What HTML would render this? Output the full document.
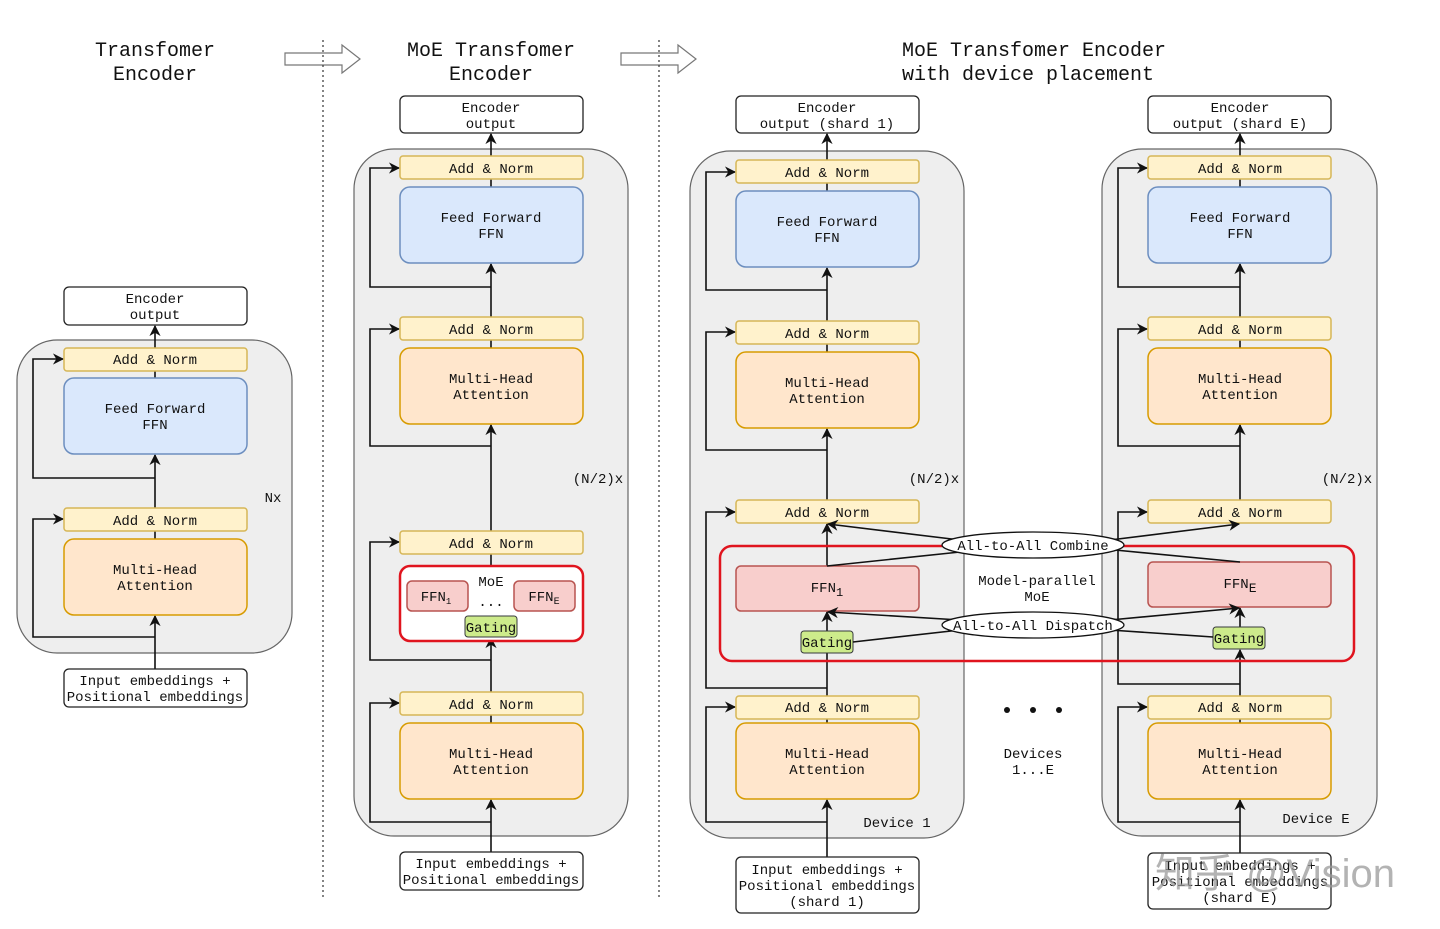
<!DOCTYPE html>
<html><head><meta charset="utf-8"><style>
html,body{margin:0;padding:0;background:#fff}
svg{display:block}
text{font-family:"Liberation Mono","DejaVu Sans Mono",monospace;font-size:14px;fill:#111;text-anchor:middle}
.t{font-size:20px}
.an{fill:#fff2cc;stroke:#d6b656;stroke-width:1.5}
.ff{fill:#dae8fc;stroke:#6c8ebf;stroke-width:1.5}
.mh{fill:#ffe6cc;stroke:#d79b00;stroke-width:1.5}
.fn{fill:#f8cecc;stroke:#b85450;stroke-width:1.5}
.ga{fill:#cdeb8b;stroke:#36393d;stroke-width:1}
.bx{fill:#fff;stroke:#222;stroke-width:1.3}
.gr{fill:#eeeeee;stroke:#666;stroke-width:1.2}
.ln{fill:none;stroke:#111;stroke-width:1.6}
.rd{fill:none;stroke:#e0141e;stroke-width:2.5}
</style></head><body>
<svg width="1440" height="929" viewBox="0 0 1440 929" xmlns="http://www.w3.org/2000/svg">
<defs><marker id="a" viewBox="0 0 10 10" refX="9" refY="5" markerWidth="7" markerHeight="7" orient="auto"><path d="M0,0 L10,5 L0,10 L3,5 z" fill="#111"/></marker></defs>

<!-- titles -->
<text class="t" x="155" y="56">Transfomer</text><text class="t" x="155" y="80">Encoder</text>
<text class="t" x="491" y="56">MoE Transfomer</text><text class="t" x="491" y="80">Encoder</text>
<text class="t" x="902" y="56" style="text-anchor:start">MoE Transfomer Encoder</text>
<text class="t" x="902" y="80" style="text-anchor:start">with device placement</text>

<!-- hollow arrows & dotted separators -->
<path d="M285,53 H342 V45 L360,59 L342,73 V65 H285 Z" fill="#fff" stroke="#777" stroke-width="1.2"/>
<path d="M621,53 H678 V45 L696,59 L678,73 V65 H621 Z" fill="#fff" stroke="#777" stroke-width="1.2"/>
<line x1="323" y1="40" x2="323" y2="898" stroke="#333" stroke-width="1.2" stroke-dasharray="2,3"/>
<line x1="659" y1="40" x2="659" y2="898" stroke="#333" stroke-width="1.2" stroke-dasharray="2,3"/>

<!-- ===== Column 1 ===== -->
<rect class="gr" x="17" y="340" width="275" height="313" rx="40"/>
<rect class="bx" x="64" y="287" width="183" height="38" rx="5"/>
<text x="155" y="303">Encoder</text><text x="155" y="319">output</text>
<path class="ln" d="M155,669 V616" marker-end="url(#a)"/>
<path class="ln" d="M155,637 H33 V519 H63" marker-end="url(#a)"/>
<path class="ln" d="M155,539 V531"/>
<path class="ln" d="M155,508 V455" marker-end="url(#a)"/>
<path class="ln" d="M155,478 H33 V359 H63" marker-end="url(#a)"/>
<path class="ln" d="M155,378 V371"/>
<path class="ln" d="M155,348 V326" marker-end="url(#a)"/>
<rect class="an" x="64" y="348" width="183" height="23" rx="3"/><text x="155" y="364">Add &amp; Norm</text>
<rect class="ff" x="64" y="378" width="183" height="76" rx="10"/><text x="155" y="413">Feed Forward</text><text x="155" y="429">FFN</text>
<rect class="an" x="64" y="508" width="183" height="23" rx="3"/><text x="155" y="525">Add &amp; Norm</text>
<rect class="mh" x="64" y="539" width="183" height="76" rx="10"/><text x="155" y="574">Multi-Head</text><text x="155" y="590">Attention</text>
<text x="273" y="502">Nx</text>
<rect class="bx" x="64" y="669" width="183" height="38" rx="5"/>
<text x="155" y="685">Input embeddings +</text><text x="155" y="701">Positional embeddings</text>

<!-- ===== Column 2 ===== -->
<rect class="gr" x="354" y="149" width="274" height="687" rx="40"/>
<rect class="bx" x="400" y="96" width="183" height="37" rx="5"/>
<text x="491" y="112">Encoder</text><text x="491" y="128">output</text>
<path class="ln" d="M491,852 V800" marker-end="url(#a)"/>
<path class="ln" d="M491,822 H370 V703 H399" marker-end="url(#a)"/>
<path class="ln" d="M491,723 V715"/>
<path class="ln" d="M491,692 V638" marker-end="url(#a)"/>
<path class="ln" d="M491,660 H370 V542 H399" marker-end="url(#a)"/>
<path class="ln" d="M491,566 V554"/>
<path class="ln" d="M491,531 V425" marker-end="url(#a)"/>
<path class="ln" d="M491,446 H370 V329 H399" marker-end="url(#a)"/>
<path class="ln" d="M491,348 V340"/>
<path class="ln" d="M491,317 V264" marker-end="url(#a)"/>
<path class="ln" d="M491,287 H370 V168 H399" marker-end="url(#a)"/>
<path class="ln" d="M491,187 V179"/>
<path class="ln" d="M491,156 V134" marker-end="url(#a)"/>
<rect class="an" x="400" y="156" width="183" height="23" rx="3"/><text x="491" y="173">Add &amp; Norm</text>
<rect class="ff" x="400" y="187" width="183" height="76" rx="10"/><text x="491" y="222">Feed Forward</text><text x="491" y="238">FFN</text>
<rect class="an" x="400" y="317" width="183" height="23" rx="3"/><text x="491" y="334">Add &amp; Norm</text>
<rect class="mh" x="400" y="348" width="183" height="76" rx="10"/><text x="491" y="383">Multi-Head</text><text x="491" y="399">Attention</text>
<text x="598" y="483">(N/2)x</text>
<rect class="an" x="400" y="531" width="183" height="23" rx="3"/><text x="491" y="548">Add &amp; Norm</text>
<rect x="400" y="566" width="183" height="75" rx="10" fill="#fff" stroke="#e0141e" stroke-width="2.5"/>
<text x="491" y="586">MoE</text><text x="491" y="606">...</text>
<rect class="fn" x="407" y="581" width="61" height="30" rx="5"/><text x="436" y="601">FFN<tspan font-size="9" dy="3">1</tspan></text>
<rect class="fn" x="514" y="581" width="61" height="30" rx="5"/><text x="544" y="601">FFN<tspan font-size="10" dy="3">E</tspan></text>
<rect class="ga" x="465" y="616" width="52" height="21" rx="3"/><text x="491" y="632">Gating</text>
<rect class="an" x="400" y="692" width="183" height="23" rx="3"/><text x="491" y="709">Add &amp; Norm</text>
<rect class="mh" x="400" y="723" width="183" height="76" rx="10"/><text x="491" y="758">Multi-Head</text><text x="491" y="774">Attention</text>
<rect class="bx" x="400" y="852" width="183" height="38" rx="5"/>
<text x="491" y="868">Input embeddings +</text><text x="491" y="884">Positional embeddings</text>

<!-- ===== Column 3 ===== -->
<rect class="gr" x="690" y="151" width="274" height="687" rx="40"/>
<rect class="bx" x="736" y="96" width="183" height="37" rx="5"/>
<text x="827" y="112">Encoder</text><text x="827" y="128">output (shard 1)</text>
<path class="ln" d="M827,857 V800" marker-end="url(#a)"/>
<path class="ln" d="M827,822 H706 V707 H735" marker-end="url(#a)"/>
<path class="ln" d="M827,723 V719"/>
<path class="ln" d="M827,696 V653"/>
<path class="ln" d="M827,688 H706 V512 H735" marker-end="url(#a)"/>
<path class="ln" d="M827,631 V612" marker-end="url(#a)"/>
<path class="ln" d="M827,566 V524" marker-end="url(#a)"/>
<path class="ln" d="M827,500 V429" marker-end="url(#a)"/>
<path class="ln" d="M827,450 H706 V332 H735" marker-end="url(#a)"/>
<path class="ln" d="M827,352 V344"/>
<path class="ln" d="M827,321 V268" marker-end="url(#a)"/>
<path class="ln" d="M827,290 H706 V172 H735" marker-end="url(#a)"/>
<path class="ln" d="M827,191 V183"/>
<path class="ln" d="M827,160 V134" marker-end="url(#a)"/>
<rect class="an" x="736" y="160" width="183" height="23" rx="3"/><text x="827" y="177">Add &amp; Norm</text>
<rect class="ff" x="736" y="191" width="183" height="76" rx="10"/><text x="827" y="226">Feed Forward</text><text x="827" y="242">FFN</text>
<rect class="an" x="736" y="321" width="183" height="23" rx="3"/><text x="827" y="338">Add &amp; Norm</text>
<rect class="mh" x="736" y="352" width="183" height="76" rx="10"/><text x="827" y="387">Multi-Head</text><text x="827" y="403">Attention</text>
<text x="934" y="483">(N/2)x</text>
<rect class="an" x="736" y="500" width="183" height="23" rx="3"/><text x="827" y="517">Add &amp; Norm</text>
<rect class="fn" x="736" y="566" width="183" height="45" rx="5"/><text x="827" y="592">FFN<tspan font-size="12" dy="4">1</tspan></text>
<rect class="ga" x="801" y="631" width="52" height="22" rx="3"/><text x="827" y="647">Gating</text>
<rect class="an" x="736" y="696" width="183" height="23" rx="3"/><text x="827" y="712">Add &amp; Norm</text>
<rect class="mh" x="736" y="723" width="183" height="76" rx="10"/><text x="827" y="758">Multi-Head</text><text x="827" y="774">Attention</text>
<text x="897" y="827">Device 1</text>
<rect class="bx" x="736" y="857" width="183" height="56" rx="5"/>
<text x="827" y="874">Input embeddings +</text><text x="827" y="890">Positional embeddings</text><text x="827" y="906">(shard 1)</text>

<!-- ===== Column 4 ===== -->
<rect class="gr" x="1102" y="149" width="275" height="687" rx="40"/>
<rect class="bx" x="1148" y="96" width="183" height="37" rx="5"/>
<text x="1240" y="112">Encoder</text><text x="1240" y="128">output (shard E)</text>
<path class="ln" d="M1240,853 V800" marker-end="url(#a)"/>
<path class="ln" d="M1240,822 H1118 V707 H1147" marker-end="url(#a)"/>
<path class="ln" d="M1240,723 V719"/>
<path class="ln" d="M1240,696 V650" marker-end="url(#a)"/>
<path class="ln" d="M1240,684 H1118 V512 H1147" marker-end="url(#a)"/>
<path class="ln" d="M1240,627 V608" marker-end="url(#a)"/>
<path class="ln" d="M1240,500 V425" marker-end="url(#a)"/>
<path class="ln" d="M1240,446 H1118 V329 H1147" marker-end="url(#a)"/>
<path class="ln" d="M1240,348 V340"/>
<path class="ln" d="M1240,317 V264" marker-end="url(#a)"/>
<path class="ln" d="M1240,287 H1118 V168 H1147" marker-end="url(#a)"/>
<path class="ln" d="M1240,187 V179"/>
<path class="ln" d="M1240,156 V134" marker-end="url(#a)"/>
<rect class="an" x="1148" y="156" width="183" height="23" rx="3"/><text x="1240" y="173">Add &amp; Norm</text>
<rect class="ff" x="1148" y="187" width="183" height="76" rx="10"/><text x="1240" y="222">Feed Forward</text><text x="1240" y="238">FFN</text>
<rect class="an" x="1148" y="317" width="183" height="23" rx="3"/><text x="1240" y="334">Add &amp; Norm</text>
<rect class="mh" x="1148" y="348" width="183" height="76" rx="10"/><text x="1240" y="383">Multi-Head</text><text x="1240" y="399">Attention</text>
<text x="1347" y="483">(N/2)x</text>
<rect class="an" x="1148" y="500" width="183" height="23" rx="3"/><text x="1240" y="517">Add &amp; Norm</text>
<rect class="fn" x="1148" y="562" width="183" height="45" rx="5"/><text x="1240" y="588">FFN<tspan font-size="13" dy="4">E</tspan></text>
<rect class="ga" x="1213" y="627" width="52" height="22" rx="3"/><text x="1239" y="643">Gating</text>
<rect class="an" x="1148" y="696" width="183" height="23" rx="3"/><text x="1240" y="712">Add &amp; Norm</text>
<rect class="mh" x="1148" y="723" width="183" height="76" rx="10"/><text x="1240" y="758">Multi-Head</text><text x="1240" y="774">Attention</text>
<text x="1316" y="823">Device E</text>
<rect class="bx" x="1148" y="853" width="183" height="56" rx="5"/>
<text x="1240" y="870">Input embeddings +</text><text x="1240" y="886">Positional embeddings</text><text x="1240" y="902">(shard E)</text>

<!-- Model-parallel MoE -->
<rect class="rd" x="720" y="546" width="634" height="115" rx="12"/>
<text x="1037" y="585">Model-parallel</text><text x="1037" y="601">MoE</text>
<path class="ln" d="M960,540 L828,524" marker-end="url(#a)"/>
<path class="ln" d="M1110,540 L1239,524" marker-end="url(#a)"/>
<path class="ln" d="M827,566 L960,552"/>
<path class="ln" d="M1240,562 L1115,550"/>
<path class="ln" d="M960,620 L828,612" marker-end="url(#a)"/>
<path class="ln" d="M1110,620 L1239,608" marker-end="url(#a)"/>
<path class="ln" d="M853,642 L960,630"/>
<path class="ln" d="M1213,637 L1110,630"/>
<ellipse cx="1033" cy="545" rx="91" ry="13" fill="#fff" stroke="#111" stroke-width="1.3"/>
<text x="1033" y="550">All-to-All Combine</text>
<ellipse cx="1033" cy="625" rx="91" ry="13" fill="#fff" stroke="#111" stroke-width="1.3"/>
<text x="1033" y="630">All-to-All Dispatch</text>

<!-- devices -->
<circle cx="1007" cy="710" r="3" fill="#111"/><circle cx="1033" cy="710" r="3" fill="#111"/><circle cx="1059" cy="710" r="3" fill="#111"/>
<text x="1033" y="758">Devices</text><text x="1033" y="774">1...E</text>

<!-- watermark -->
<text x="1275" y="887" style="font-family:'Liberation Sans','Noto Sans CJK SC',sans-serif;font-size:40px;fill:#9a9a9a;opacity:0.75">知乎 @Vision</text>
</svg>
</body></html>
